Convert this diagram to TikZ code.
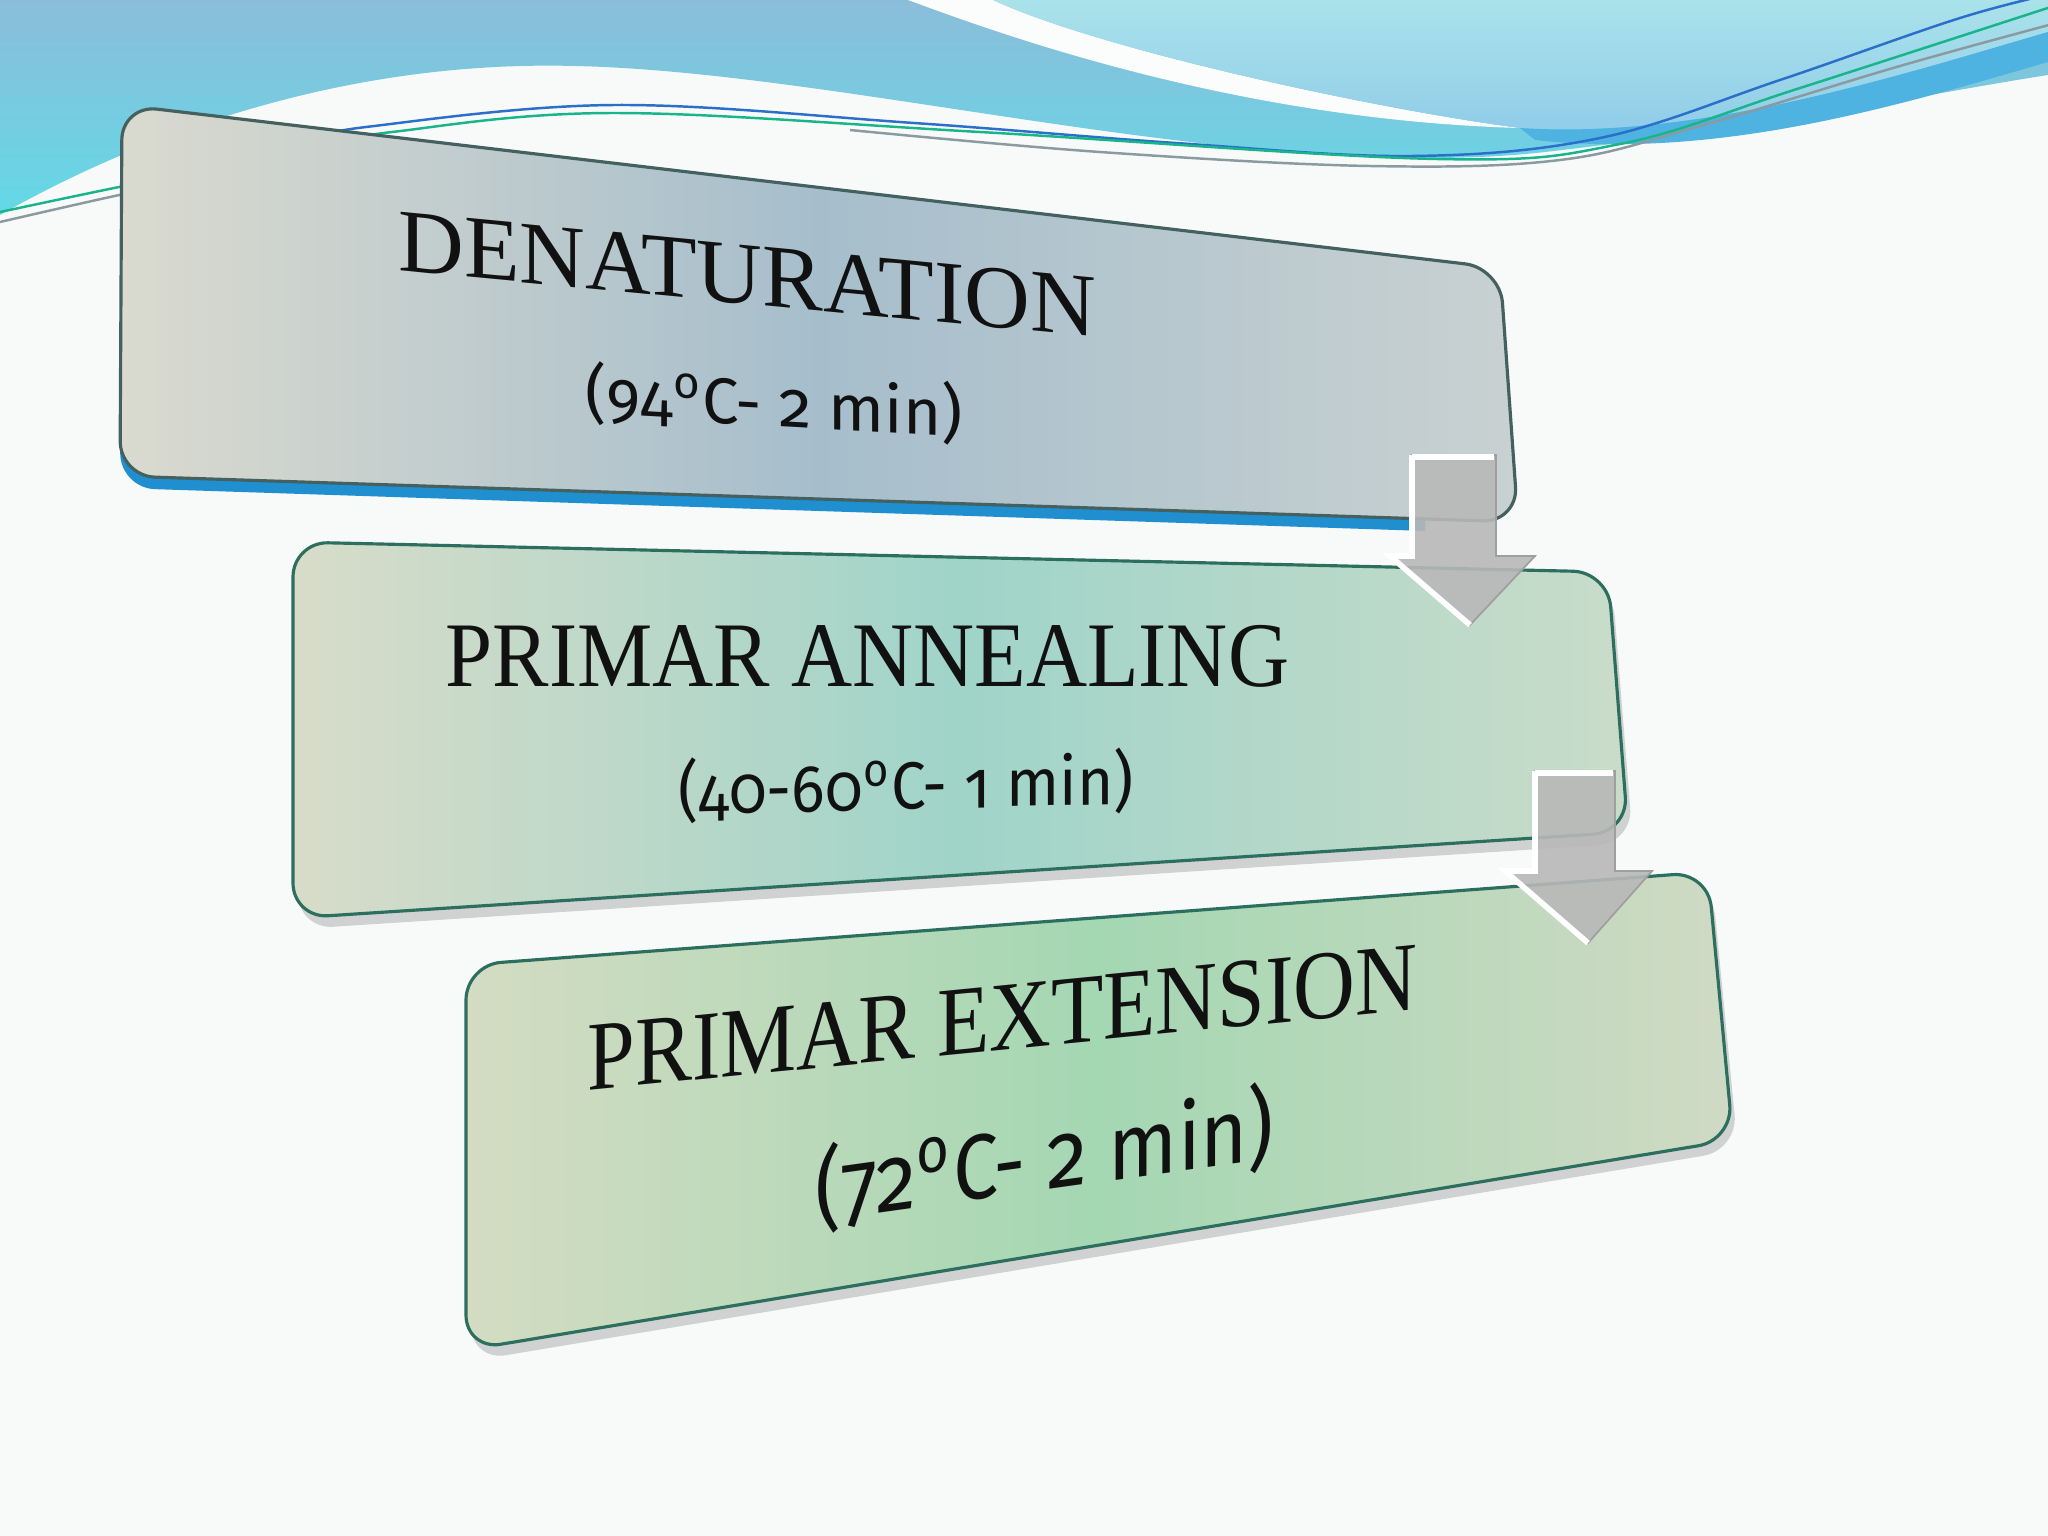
\documentclass[tikz,border=0pt]{standalone}
\usepackage{fontspec}
\newfontfamily\titlefont{Liberation Serif}
\newfontfamily\subfont[Numbers=OldStyle]{Fira Sans}
\definecolor{bgwhite}{HTML}{F8FAFA}
\definecolor{wavetop}{HTML}{8BBDD9}
\definecolor{wavebot}{HTML}{63D9E7}
\definecolor{lighttop}{HTML}{AAE2EA}
\definecolor{lightbot}{HTML}{8FCBE9}
\definecolor{bandblue}{HTML}{4FB3E2}
\definecolor{swooshc}{HTML}{FBFDFD}
\definecolor{lineblue}{HTML}{2A6FC9}
\definecolor{linegreen}{HTML}{19B58A}
\definecolor{linegrey}{HTML}{8A9AA0}
\definecolor{boxAl}{HTML}{DADACF}
\definecolor{boxAm}{HTML}{A6BECC}
\definecolor{boxAr}{HTML}{C9D1D1}
\definecolor{boxBl}{HTML}{D8DCC9}
\definecolor{boxBm}{HTML}{A0D4C9}
\definecolor{boxBr}{HTML}{C9DCC9}
\definecolor{boxCl}{HTML}{D4DCC2}
\definecolor{boxCm}{HTML}{A4D7B3}
\definecolor{boxCr}{HTML}{D0DAC4}
\definecolor{edgeA}{HTML}{44605F}
\definecolor{edgeG}{HTML}{2C6F5F}
\definecolor{rimblue}{HTML}{1F8FD0}
\definecolor{arrowfill}{HTML}{B8B8B8}
\definecolor{textc}{HTML}{111111}
\tikzset{
  wline/.style={line width=0.7pt},
  boxshape/.style={rounded corners=0.35cm, line width=0.9pt},
  boxshadow/.style={rounded corners=0.35cm, fill=black, opacity=0.16},
  blockarrow/.style={fill=arrowfill, fill opacity=0.9, draw=gray!75, line width=0.5pt, line join=miter},
  arrowlight/.style={draw=white, line width=1.6pt, line join=miter},
  steptext/.style={anchor=west, inner sep=0pt, transform shape, text=textc}
}
\newcommand\placetext[7]{%
  \begin{scope}[shift={(#2,#3)}, cm={1,#4,0,1,(0,0)}]
    \node[steptext] (#1) at (0,0) {\resizebox*{#5}{#6}{#7}};
  \end{scope}}
\begin{document}
\begin{tikzpicture}[x=0.01cm, y=-0.01cm]
\useasboundingbox (0,0) rectangle (2048,1536);
\fill[bgwhite] (0,0) rectangle (2048,1536);
% ---- top waves ----
\shade[top color=wavetop, bottom color=wavebot] (0,0) -- (2048,0) -- (2048,75)
  .. controls (1950,90) and (1780,125) .. (1545,152)
  .. controls (1250,185) and (850,72) .. (575,66)
  .. controls (350,60) and (150,130) .. (0,215) -- cycle;
\fill[swooshc] (908,0) .. controls (990,30) and (1230,120) .. (1520,128)
  .. controls (1380,110) and (1100,50) .. (993,0) -- cycle;
\shade[top color=lighttop, bottom color=lightbot] (993,0) -- (2048,0) -- (2048,32)
  .. controls (1900,75) and (1700,140) .. (1520,128)
  .. controls (1380,110) and (1100,50) .. (993,0) -- cycle;
\fill[bandblue] (1520,128) .. controls (1700,140) and (1900,75) .. (2048,32)
  -- (2048,62) .. controls (1900,105) and (1720,160) .. (1535,140) -- cycle;
% thin lines
\draw[wline, linegreen] plot[smooth, tension=0.6] coordinates {(0,212) (124,186) (200,172)};
\draw[wline, linegrey] plot[smooth, tension=0.6] coordinates {(0,222) (124,194) (200,180)};
\draw[wline, lineblue] plot[smooth, tension=0.6] coordinates {(300,142) (366,127) (614,105) (914,123) (1176,143) (1411,156) (1600,138) (1780,80) (1960,18) (2060,-8)};
\draw[wline, linegreen] plot[smooth, tension=0.6] coordinates {(320,146) (392,132) (614,113) (980,132) (1437,159) (1620,144) (1800,88) (2060,4)};
\draw[wline, linegrey] plot[smooth, tension=0.6] coordinates {(850,130) (1100,152) (1370,166) (1560,160) (1700,126) (1900,66) (2060,22)};
% ---- box 1 ----
\begin{scope}
  \clip (0,0) rectangle (1425,700);
  \fill[rimblue, rounded corners=0.35cm] (122,117) -- (1500,280) -- (1518,534) -- (120,488) -- cycle;
\end{scope}
\path[boxshape, draw=edgeA, left color=boxAl, right color=boxAr, middle color=boxAm]
  (122,105) -- (1500,268) -- (1518,522) -- (120,476) -- cycle;
% ---- box 2 ----
\fill[boxshadow] (298,552) -- (1612,582) -- (1633,843) -- (298,929) -- cycle;
\path[boxshape, draw=edgeG, left color=boxBl, right color=boxBr, middle color=boxBm]
  (293,542) -- (1608,572) -- (1628,832) -- (293,918) -- cycle;
% ---- box 3 ----
\fill[boxshadow] (471,975) -- (1712,882) -- (1738,1150) -- (471,1361) -- cycle;
\path[boxshape, draw=edgeG, left color=boxCl, right color=boxCr, middle color=boxCm]
  (466,965) -- (1708,872) -- (1733,1140) -- (466,1350) -- cycle;
% ---- texts ----
\placetext{t1}{398}{241.5}{-0.095}{6.97cm}{0.60cm}{\titlefont DENATURATION}
\placetext{t2}{585}{393}{-0.056}{3.77cm}{0.64cm}{\subfont (94\textsuperscript{o}C- 2 min)}
\placetext{t3}{445}{656}{0}{8.43cm}{0.62cm}{\titlefont PRIMAR ANNEALING}
\placetext{t4}{678}{791.5}{0.024}{4.55cm}{0.66cm}{\subfont (40-60\textsuperscript{o}C- 1 min)}
\placetext{t5}{587}{1058.5}{0.098}{8.29cm}{0.66cm}{\titlefont PRIMAR EXTENSION}
\placetext{t6}{815}{1190}{0.14}{4.58cm}{0.91cm}{\subfont (72\textsuperscript{o}C- 2 min)}
% ---- block arrows ----
\path[blockarrow] (1412,455) -- (1496,455) -- (1496,556) -- (1535,556) -- (1470,625) -- (1390,556) -- (1412,556) -- cycle;
\draw[arrowlight] (1412,455) -- (1412,556) -- (1390,556) -- (1470,625);
\draw[arrowlight] (1412,457) -- (1494,457);
\path[blockarrow] (1535,771) -- (1615,771) -- (1615,871) -- (1652,871) -- (1588,943) -- (1505,871) -- (1535,871) -- cycle;
\draw[arrowlight] (1535,771) -- (1535,871) -- (1505,871) -- (1588,943);
\draw[arrowlight] (1535,773) -- (1613,773);
\end{tikzpicture}
\end{document}
